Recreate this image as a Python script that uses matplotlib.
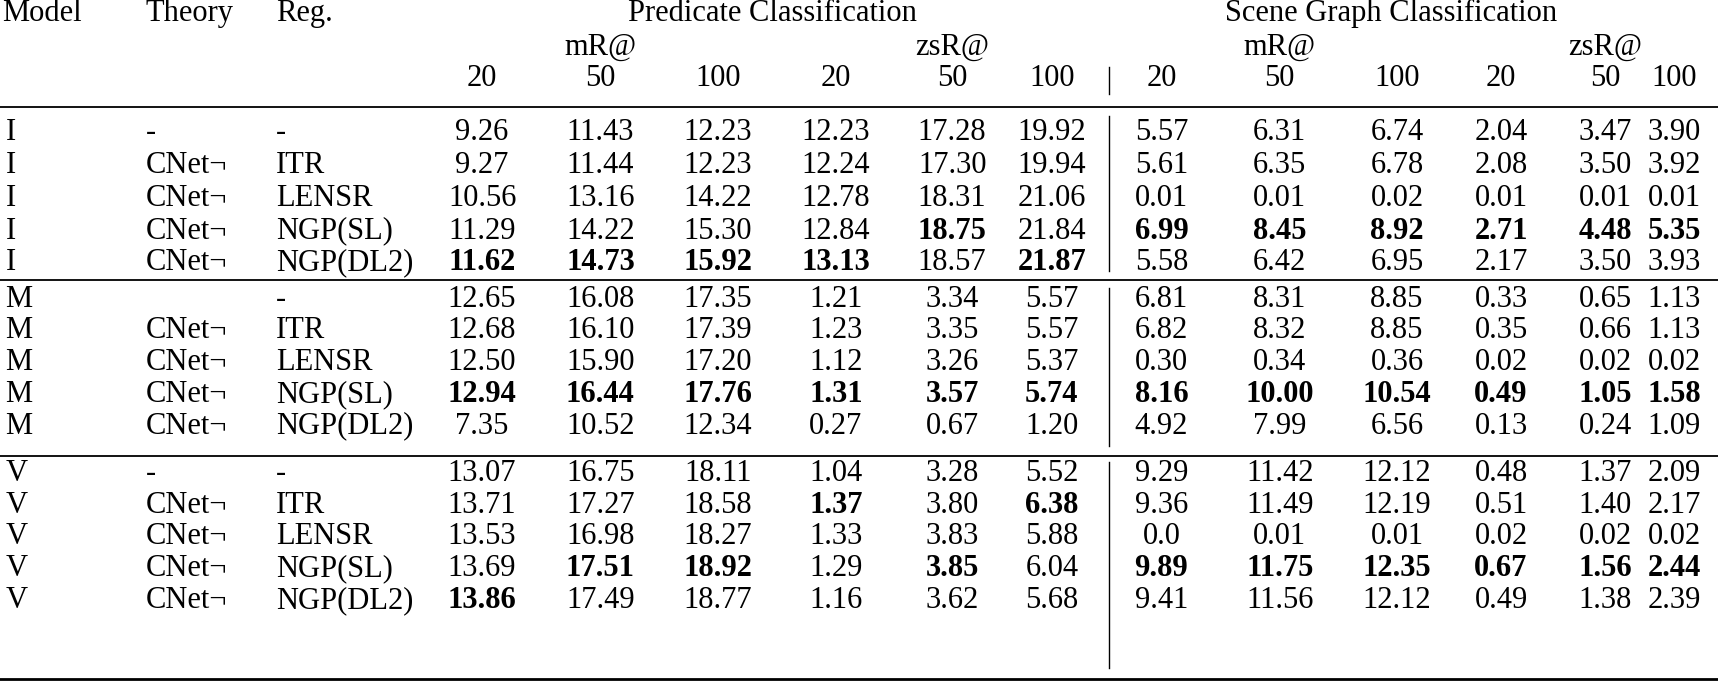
import matplotlib
matplotlib.use("Agg")
import matplotlib.pyplot as plt

plt.rcParams['font.family'] = ['Liberation Serif', 'DejaVu Serif']
FS = 22

models = ['I'] * 5 + ['M'] * 5 + ['V'] * 5
theories = ['-', 'CNet¬', 'CNet¬', 'CNet¬', 'CNet¬',
            '', 'CNet¬', 'CNet¬', 'CNet¬', 'CNet¬',
            '-', 'CNet¬', 'CNet¬', 'CNet¬', 'CNet¬']
regs = ['-', 'ITR', 'LENSR', 'NGP(SL)', 'NGP(DL2)'] * 3

pred_values = [
    ['9.26', '11.43', '12.23', '12.23', '17.28', '19.92'],
    ['9.27', '11.44', '12.23', '12.24', '17.30', '19.94'],
    ['10.56', '13.16', '14.22', '12.78', '18.31', '21.06'],
    ['11.29', '14.22', '15.30', '12.84', '18.75', '21.84'],
    ['11.62', '14.73', '15.92', '13.13', '18.57', '21.87'],
    ['12.65', '16.08', '17.35', '1.21', '3.34', '5.57'],
    ['12.68', '16.10', '17.39', '1.23', '3.35', '5.57'],
    ['12.50', '15.90', '17.20', '1.12', '3.26', '5.37'],
    ['12.94', '16.44', '17.76', '1.31', '3.57', '5.74'],
    ['7.35', '10.52', '12.34', '0.27', '0.67', '1.20'],
    ['13.07', '16.75', '18.11', '1.04', '3.28', '5.52'],
    ['13.71', '17.27', '18.58', '1.37', '3.80', '6.38'],
    ['13.53', '16.98', '18.27', '1.33', '3.83', '5.88'],
    ['13.69', '17.51', '18.92', '1.29', '3.85', '6.04'],
    ['13.86', '17.49', '18.77', '1.16', '3.62', '5.68'],
]
scene_values = [
    ['5.57', '6.31', '6.74', '2.04', '3.47', '3.90'],
    ['5.61', '6.35', '6.78', '2.08', '3.50', '3.92'],
    ['0.01', '0.01', '0.02', '0.01', '0.01', '0.01'],
    ['6.99', '8.45', '8.92', '2.71', '4.48', '5.35'],
    ['5.58', '6.42', '6.95', '2.17', '3.50', '3.93'],
    ['6.81', '8.31', '8.85', '0.33', '0.65', '1.13'],
    ['6.82', '8.32', '8.85', '0.35', '0.66', '1.13'],
    ['0.30', '0.34', '0.36', '0.02', '0.02', '0.02'],
    ['8.16', '10.00', '10.54', '0.49', '1.05', '1.58'],
    ['4.92', '7.99', '6.56', '0.13', '0.24', '1.09'],
    ['9.29', '11.42', '12.12', '0.48', '1.37', '2.09'],
    ['9.36', '11.49', '12.19', '0.51', '1.40', '2.17'],
    ['0.0', '0.01', '0.01', '0.02', '0.02', '0.02'],
    ['9.89', '11.75', '12.35', '0.67', '1.56', '2.44'],
    ['9.41', '11.56', '12.12', '0.49', '1.38', '2.39'],
]
# bold cells: (row, col) with col 0-5 predicate, 6-11 scene
bold_cells = {
    (3, 4), (4, 0), (4, 1), (4, 2), (4, 3), (4, 5),
    (3, 6), (3, 7), (3, 8), (3, 9), (3, 10), (3, 11),
    (8, 0), (8, 1), (8, 2), (8, 3), (8, 4), (8, 5),
    (8, 6), (8, 7), (8, 8), (8, 9), (8, 10), (8, 11),
    (11, 3), (11, 5), (13, 1), (13, 2), (13, 4),
    (13, 6), (13, 7), (13, 8), (13, 9), (13, 10), (13, 11),
    (14, 0),
}
k_labels = ['20', '50', '100'] * 4

W, H = 1718, 685
S = 1718 / 1568  # layout measured on a 1568-wide view
fig = plt.figure(figsize=(W / 100, H / 100), dpi=100)
ax = fig.add_axes([0, 0, 1, 1])
ax.set_xlim(0, W / S)
ax.set_ylim(H / S, 0)
ax.axis('off')

col_x = [440, 548, 655, 763, 869, 960, 1060, 1168, 1275, 1370, 1465, 1528]
row_y = [122, 150, 177, 204, 231, 262, 289, 316, 343, 370, 461, 488, 515, 543, 570]
row_y = [121, 151, 181, 211, 240, 273, 302, 331, 360, 389, 432, 461, 490, 519, 548]

# header
for x, t in [(2, 'Model'), (133, 'Theory'), (252, 'Reg.')]:
    ax.text(x, 12, t, fontsize=FS, ha='left', va='center')
ax.text(705, 12, 'Predicate Classification', fontsize=FS, ha='center', va='center')
ax.text(1270, 12, 'Scene Graph Classification', fontsize=FS, ha='center', va='center')
for i, t in zip([1, 4, 7, 10], ['mR@', 'zsR@', 'mR@', 'zsR@']):
    ax.text(col_x[i], 43, t, fontsize=FS, ha='center', va='center')
for x, t in zip(col_x, k_labels):
    ax.text(x, 72, t, fontsize=FS, ha='center', va='center')

# rules
ax.plot([0, 1568], [98, 98], color='black', lw=1.3)
ax.plot([0, 1568], [256, 256], color='black', lw=1.3)
ax.plot([0, 1568], [416, 416], color='black', lw=1.3)
ax.plot([0, 1568], [620, 620], color='black', lw=2)
ax.plot([1012, 1012], [61, 86], color='black', lw=1)
for top, bot in [(106, 247), (263, 407), (422, 610)]:
    ax.plot([1012, 1012], [top, bot], color='black', lw=1)

for r, y in enumerate(row_y):
    ax.text(5, y, models[r], fontsize=FS, ha='left', va='center')
    ax.text(133, y, theories[r], fontsize=FS, ha='left', va='center')
    ax.text(252, y, regs[r], fontsize=FS, ha='left', va='center')
    for c, v in enumerate(pred_values[r] + scene_values[r]):
        ax.text(col_x[c], y, v, fontsize=FS, ha='center', va='center',
                fontweight='bold' if (r, c) in bold_cells else 'normal')

fig.savefig('out.png', dpi=100)
